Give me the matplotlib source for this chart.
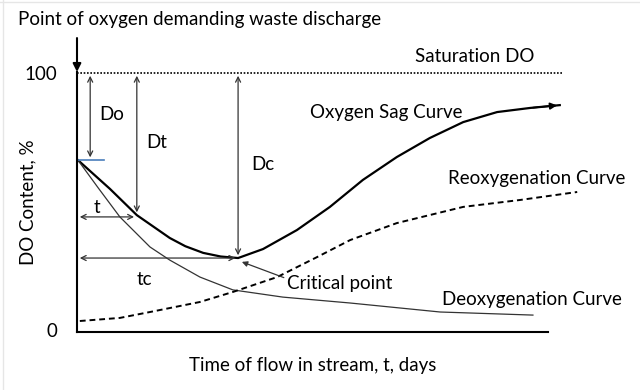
#Script to sketch the oxygen sag curve (DO content vs time of flow in stream)

import matplotlib.pyplot as plt
from matplotlib.lines import Line2D

plt.rcParams['font.family'] = ['Lato', 'DejaVu Sans']
FS = 13.5

# Curve values (x = time of flow in days, y = DO %)
sag_t = [0.02, 0.70, 1.27, 1.97, 2.30, 2.68, 3.05, 3.42, 3.95, 4.67, 5.37, 6.07, 6.79, 7.49, 8.20, 8.92, 9.62, 10.25]
sag_do = [66.1, 54.9, 44.7, 35.8, 32.6, 30.0, 28.6, 28.0, 31.5, 38.9, 47.9, 58.4, 67.3, 74.7, 80.9, 84.8, 86.4, 87.5]

deox_t = [0.02, 0.45, 0.91, 1.55, 1.97, 2.61, 3.31, 4.37, 5.80, 7.71, 9.68]
deox_do = [66.1, 55.3, 44.0, 32.3, 27.2, 20.6, 15.6, 12.8, 10.5, 7.0, 5.8]

reox_t = [0.06, 0.91, 1.55, 2.61, 3.31, 4.25, 5.10, 5.80, 6.79, 8.20, 9.41, 10.62]
reox_do = [3.5, 4.7, 7.0, 10.9, 14.8, 20.6, 28.4, 35.0, 41.6, 47.9, 50.6, 53.7]

saturation = 100
t_end = 10.3
t_mid = 1.27     # time t
t_crit = 3.42    # critical time tc
do_start = 66.1  # DO just after discharge
do_t = 44.7
do_crit = 28.0

fig = plt.figure(figsize=(6.4, 3.9), dpi=100)
ax = fig.add_axes([77/640, (390-332)/390, (548-77)/640, (332-72)/390])
ax.set_xlim(0, 10)
ax.set_ylim(-0.78, 100.39)

ax.spines['top'].set_visible(False)
ax.spines['right'].set_visible(False)
for s in ['left', 'bottom']:
    ax.spines[s].set_linewidth(1.5)
    ax.spines[s].set_color('black')

ax.set_xticks([])
ax.set_yticks([0, 100])
ax.set_yticklabels(['0', '100'], fontsize=FS)
ax.tick_params(axis='y', length=0, pad=14)

ax.set_xlabel('Time of flow in stream, t, days', fontsize=FS, labelpad=18)
ax.set_ylabel('DO Content, %', fontsize=FS, va='center')
ax.yaxis.set_label_coords(-0.104, 0.5)

# saturation line
ax.plot([0, t_end], [saturation, saturation], color='black', lw=1.2, ls=(0, (1, 1)), clip_on=False)

# curves
ax.plot(sag_t, sag_do, color='black', lw=1.6, clip_on=False)
ax.annotate('', xy=(sag_t[-1], sag_do[-1]), xytext=(sag_t[-2], sag_do[-2]),
            arrowprops=dict(arrowstyle='-|>', color='black', lw=1.2, mutation_scale=10),
            annotation_clip=False)
ax.plot(deox_t, deox_do, color='#333333', lw=0.9, clip_on=False)
ax.plot(reox_t, reox_do, color='black', lw=1.4, ls=(0, (3, 2)), clip_on=False)

# initial deficit marker
ax.plot([0, 0.57], [do_start, do_start], color='#4a7ebb', lw=1.2)

# deficit and time arrows
arrow = dict(arrowstyle='<->', color='#333333', lw=0.9, mutation_scale=9)
ax.annotate('', xy=(0.28, saturation), xytext=(0.28, do_start), arrowprops=arrow)
ax.annotate('', xy=(t_mid, saturation), xytext=(t_mid, do_t), arrowprops=arrow)
ax.annotate('', xy=(t_crit, saturation), xytext=(t_crit, do_crit), arrowprops=arrow)
ax.annotate('', xy=(0, 44.0), xytext=(t_mid, 44.0), arrowprops=arrow)
ax.annotate('', xy=(0, do_crit), xytext=(t_crit, do_crit), arrowprops=arrow)

ax.text(0.47, 84, 'Do', fontsize=FS, va='center')
ax.text(1.47, 73, 'Dt', fontsize=FS, va='center')
ax.text(3.7, 64.5, 'Dc', fontsize=FS, va='center')
ax.text(0.36, 47.5, 't', fontsize=FS, va='center')
ax.text(1.27, 19.5, 'tc', fontsize=FS, va='center')

# critical point label
ax.annotate('Critical point', xy=(3.50, 26.5), xytext=(4.45, 18.0), fontsize=FS,
            va='center', ha='left',
            arrowprops=dict(arrowstyle='-|>', color='#333333', lw=0.9, mutation_scale=8,
                            shrinkA=0, shrinkB=0, relpos=(0, 0.8)))

# curve labels
ax.text(7.17, 106.5, 'Saturation DO', fontsize=FS, va='center')
ax.text(4.95, 84.5, 'Oxygen Sag Curve', fontsize=FS, va='center')
ax.text(7.88, 59.0, 'Reoxygenation Curve', fontsize=FS, va='center', clip_on=False)
ax.text(7.75, 11.7, 'Deoxygenation Curve', fontsize=FS, va='center', clip_on=False)

# discharge point arrow and title text
ax.annotate('', xy=(0, 100.4), xytext=(0, 113.6),
            arrowprops=dict(arrowstyle='-|>', color='black', lw=1.5, mutation_scale=12,
                            shrinkA=0, shrinkB=0),
            annotation_clip=False)
fig.text(18/640, 1 - 20/390, 'Point of oxygen demanding waste discharge', fontsize=FS, va='center')

# faint frame of the original image
fig.add_artist(Line2D([3/640, 3/640], [0, 1], color='#e6e6e6', lw=1))
fig.add_artist(Line2D([0, 1], [1 - 2/390, 1 - 2/390], color='#e6e6e6', lw=1))

plt.savefig('out.png', dpi=100)
